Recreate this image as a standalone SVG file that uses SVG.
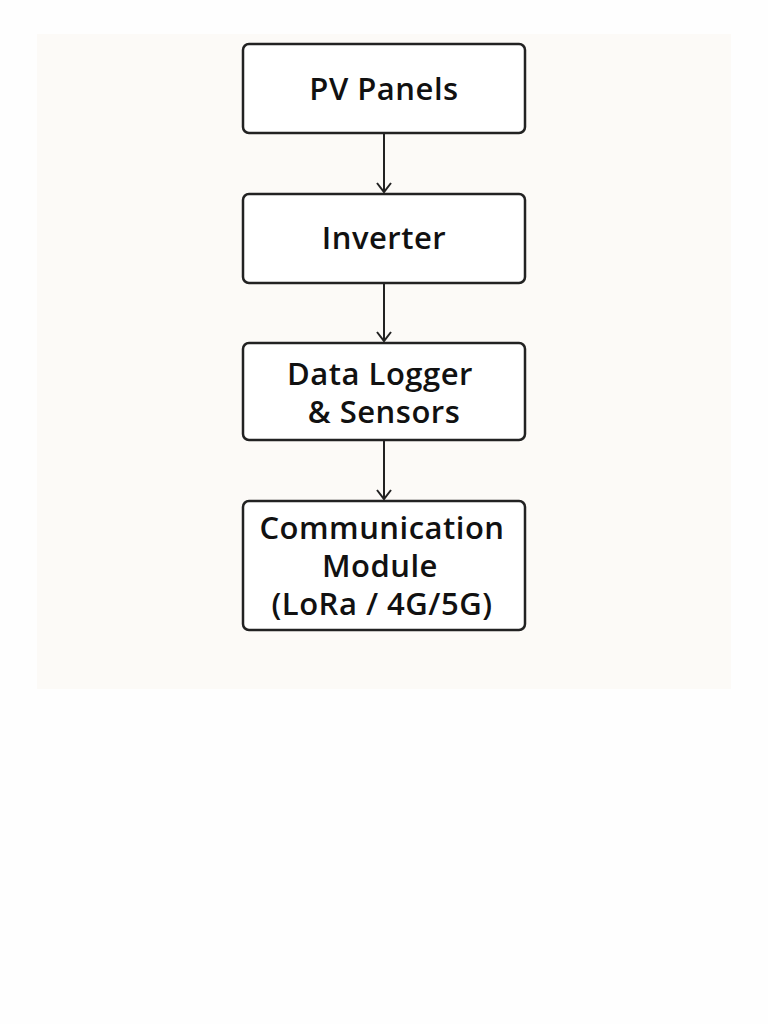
<svg xmlns="http://www.w3.org/2000/svg" width="768" height="1024" viewBox="0 0 768 1024">
<defs>
<marker id="ah" markerWidth="16" markerHeight="16" refX="10" refY="8" orient="auto" markerUnits="userSpaceOnUse">
<path d="M1,1 L10,8 L1,15" fill="none" stroke="#222" stroke-width="2"/>
</marker>
<style>
.box{fill:#fff;stroke:#222;stroke-width:2.5}
.t{font-family:"Open Sans","DejaVu Sans",sans-serif;font-size:31px;font-weight:600;fill:#111;text-anchor:middle;letter-spacing:0.5px}
.c{stroke:#222;stroke-width:2;fill:none}
</style>
</defs>
<rect width="768" height="1024" fill="#fefefe"/>
<rect x="37" y="34" width="694" height="655" fill="#fcfaf7"/>
<g id="pv"><rect class="box" x="243" y="44" width="282" height="89" rx="6"/><text class="t" x="384" y="100">PV Panels</text></g>
<g id="inv"><rect class="box" x="243" y="194" width="282" height="89" rx="6"/><text class="t" x="384" y="249">Inverter</text></g>
<g id="dl"><rect class="box" x="243" y="343" width="282" height="97" rx="6"/><text class="t" x="380" y="385">Data Logger</text><text class="t" x="384" y="423">&amp; Sensors</text></g>
<g id="cm"><rect class="box" x="243" y="501" width="282" height="129" rx="6"/><text class="t" x="382" y="539">Communication</text><text class="t" x="380" y="577">Module</text><text class="t" x="382" y="615">(LoRa / 4G/5G)</text></g>
<g id="connectors">
<line class="c" x1="384" y1="133" x2="384" y2="192" marker-end="url(#ah)"/>
<line class="c" x1="384" y1="283" x2="384" y2="341" marker-end="url(#ah)"/>
<line class="c" x1="384" y1="440" x2="384" y2="499" marker-end="url(#ah)"/>
</g>
</svg>
